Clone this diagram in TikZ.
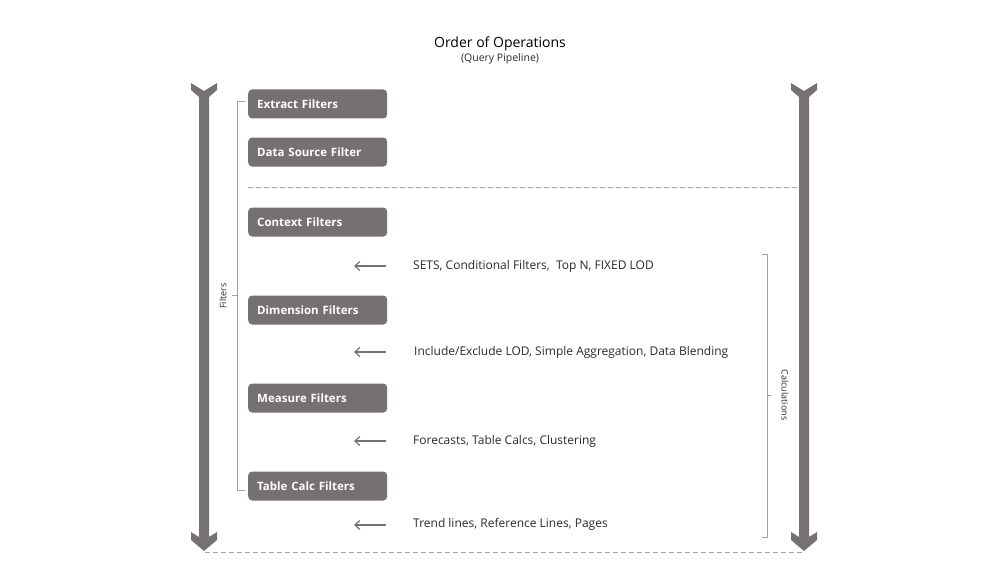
\documentclass[tikz,border=0pt]{standalone}
\usepackage{fontspec}
\setmainfont{Open Sans}
\usetikzlibrary{arrows.meta}
\definecolor{boxgray}{HTML}{767171}
\definecolor{arrgray}{HTML}{767271}
\definecolor{txt}{HTML}{2B2B2B}
\definecolor{brk}{HTML}{A0A0A0}
\tikzset{
  filterbox/.style={fill=boxgray, rounded corners=4pt, minimum width=139pt, minimum height=29pt, inner sep=0pt, text=white, font=\fontsize{11.5}{14}\selectfont\bfseries, anchor=west, text width=125pt, align=left},
  calclabel/.style={anchor=west, text=txt, font=\fontsize{12}{14}\selectfont, inner sep=0pt},
  smallarrow/.style={draw=arrgray, line width=1.2pt, -{Straight Barb[length=5pt,width=9pt]}},
  bigarrow/.style={fill=arrgray, draw=none},
  dashline/.style={draw=gray!70, line width=0.9pt, dash pattern=on 5pt off 3pt},
  bracket/.style={draw=brk, line width=0.8pt},
}
\begin{document}
\begin{tikzpicture}[x=1pt,y=-1pt]
\useasboundingbox[fill=white] (0,0) rectangle (1000,583);
% title
\node[text=black, font=\fontsize{14}{16}\selectfont] (title) at (500,43.5) {Order of Operations};
\node[text=txt, font=\fontsize{10.5}{12}\selectfont] (subtitle) at (500,59) {(Query Pipeline)};
% big arrows
\foreach \cx/\nm in {204/L,804/R}{
  \fill[bigarrow] (\cx-13,83) -- (\cx,91) -- (\cx+13,83) -- (\cx+13,90) -- (\cx+5,97) -- (\cx+5,537)
    -- (\cx+13,532) -- (\cx+13,540) -- (\cx,551) -- (\cx-13,540) -- (\cx-13,532) -- (\cx-5,537)
    -- (\cx-5,97) -- (\cx-13,90) -- cycle;
}
% dashed lines
\coordinate (d1a) at (248,187);
\coordinate (d1b) at (800,187);
\coordinate (d2a) at (205,552);
\coordinate (d2b) at (805,552);
\draw[dashline] (d1a) -- (d1b);
\draw[dashline] (d2a) -- (d2b);
% filter boxes
\node[filterbox] (ext) at (248,104) {\hspace*{2pt}Extract Filters};
\node[filterbox] (ds) at (248,152) {\hspace*{2pt}Data Source Filter};
\node[filterbox] (ctx) at (248,222) {\hspace*{2pt}Context Filters};
\node[filterbox] (dim) at (248,310) {\hspace*{2pt}Dimension Filters};
\node[filterbox] (mea) at (248,398) {\hspace*{2pt}Measure Filters};
\node[filterbox] (tcf) at (248,486) {\hspace*{2pt}Table Calc Filters};
% left bracket
\coordinate (lb1) at (245,101);
\coordinate (lb2) at (245,490);
\draw[bracket] (lb1) -- (237,101) -- (237,490) -- (lb2);
\draw[bracket] (237,295) -- (232,295);
\node[rotate=90, text=txt, font=\fontsize{9}{10}\selectfont, inner sep=0pt] (filt) at (223,296) {Filters};
% right bracket
\draw[bracket] (762,254) -- (767,254) -- (767,537) -- (762,537);
\draw[bracket] (767,395) -- (771,395);
\node[rotate=-90, text=txt, font=\fontsize{9}{10}\selectfont, inner sep=0pt] (calc) at (785,395) {Calculations};
% calc labels and arrows
\node[calclabel] (c1) at (413,266) {SETS, Conditional Filters,\ \ Top N,\ FIXED LOD};
\node[calclabel] (c2) at (414,352) {Include/Exclude LOD, Simple Aggregation, Data Blending};
\node[calclabel] (c3) at (413,441) {Forecasts, Table Calcs, Clustering};
\node[calclabel] (c4) at (413,524) {Trend lines,\ Reference Lines,\ Pages};
\foreach \n/\y in {c1/266,c2/352,c3/441,c4/525}{
  \coordinate (\n s) at (386,\y);
  \coordinate (\n e) at (354,\y);
  \draw[smallarrow] (\n s) -- (\n e);
}
\end{tikzpicture}
\end{document}
